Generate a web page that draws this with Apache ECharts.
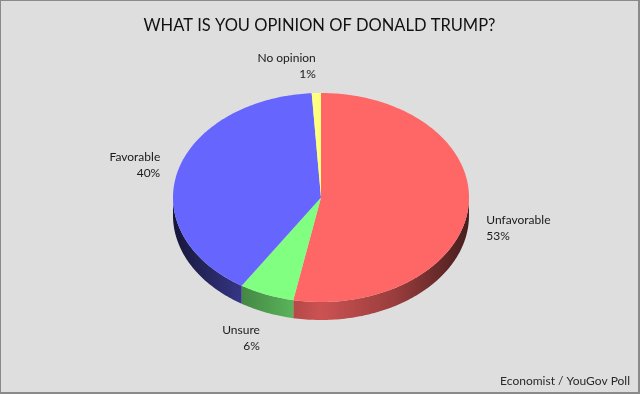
<!DOCTYPE html>
<html>
<head>
<meta charset="utf-8">
<script src="https://cdn.jsdelivr.net/npm/echarts@6/dist/echarts.min.js"></script>
<style>
html,body{margin:0;padding:0;background:#dedede;}
#chart{width:640px;height:394px;box-sizing:border-box;border-top:1px solid #8a8a8a;border-left:1px solid #8a8a8a;border-right:2px solid #8a8a8a;border-bottom:2px solid #8a8a8a;background:#dedede;}
</style>
</head>
<body>
<div id="chart"></div>
<script>
const categories = ['Unfavorable', 'Unsure', 'Favorable', 'No opinion'];
const values = [53, 6, 40, 1];
const colors = ['#ff6666', '#80ff80', '#6666ff', '#ffff80'];
const titleText = 'WHAT IS YOU OPINION OF DONALD TRUMP?';
const sourceText = 'Economist / YouGov Poll';

const chart = echarts.init(document.getElementById('chart'));
const total = values.reduce((a, b) => a + b, 0);
const starts = [];
let acc = 0;
values.forEach(v => { starts.push(acc / total * 360); acc += v; });

function geom() {
  return { cx: 320, cy: 196.5, rx: 148, ry: 104.5, depth: 18 };
}
function pt(g, deg, dy) {
  const r = deg * Math.PI / 180;
  return [g.cx + g.rx * Math.sin(r), g.cy - g.ry * Math.cos(r) + (dy || 0)];
}
function shade(hex, f) {
  const n = parseInt(hex.slice(1), 16);
  const r = (n >> 16) & 255, gg = (n >> 8) & 255, b = n & 255;
  return 'rgb(' + Math.round(r * f) + ',' + Math.round(gg * f) + ',' + Math.round(b * f) + ')';
}

const seriesData = categories.map((c, i) => ({ name: c, value: values[i] }));

function renderWall(params, api) {
  const i = params.dataIndex;
  const g = geom();
  const a0 = starts[i], a1 = starts[i] + api.value(0) / total * 360;
  const lo = Math.max(a0, 90), hi = Math.min(a1, 270);
  if (hi <= lo) return null;
  const top = [], bot = [];
  const steps = Math.max(4, Math.ceil(hi - lo));
  for (let k = 0; k <= steps; k++) {
    const d = lo + (hi - lo) * k / steps;
    top.push(pt(g, d, 0));
    bot.push(pt(g, d, g.depth));
  }
  const pts = top.concat(bot.reverse());
  const base = colors[i];
  return {
    type: 'polygon',
    shape: { points: pts },
    style: {
      fill: {
        type: 'linear', global: true,
        x: g.cx - g.rx, y: 0, x2: g.cx + g.rx, y2: 0,
        colorStops: [
          { offset: 0, color: shade(base, 0.22) },
          { offset: 0.25, color: shade(base, 0.55) },
          { offset: 0.5, color: shade(base, 0.8) },
          { offset: 0.75, color: shade(base, 0.6) },
          { offset: 1, color: shade(base, 0.28) }
        ]
      }
    }
  };
}

function renderTop(params, api) {
  const i = params.dataIndex;
  const g = geom();
  const v = api.value(0);
  const a0 = starts[i], a1 = starts[i] + v / total * 360;
  const pts = [[g.cx, g.cy]];
  const steps = Math.max(4, Math.ceil(a1 - a0));
  for (let k = 0; k <= steps; k++) pts.push(pt(g, a0 + (a1 - a0) * k / steps, 0));
  const mid = (a0 + a1) / 2 * Math.PI / 180;
  const s = Math.sin(mid), c = Math.cos(mid);
  const ax = g.cx + (g.rx + 18) * s;
  let ay = g.cy - (g.ry + 11) * c + (c < 0 ? g.depth : 0);
  const boxH = 32;
  ay = ay - c * boxH / 2;
  const align = s >= 0 ? 'left' : 'right';
  return {
    type: 'group',
    children: [
      { type: 'polygon', shape: { points: pts }, style: { fill: colors[i] } },
      {
        type: 'text',
        x: ax, y: ay,
        style: {
          text: categories[i] + '\n' + Math.round(v / total * 100) + '%',
          align: align, verticalAlign: 'middle',
          fontFamily: 'Lato', fontSize: 12, lineHeight: 16,
          fill: '#1a1a1a'
        }
      }
    ]
  };
}

chart.setOption({
  backgroundColor: '#dedede',
  animation: false,
  title: [
    { text: titleText, left: 'center', top: 11,
      textStyle: { fontFamily: 'Lato', fontSize: 16.5, fontWeight: 'normal', color: '#111111' } },
    { text: sourceText, right: 3, bottom: 0,
      textStyle: { fontFamily: 'Lato', fontSize: 12, fontWeight: 'normal', color: '#2a2a2a' } }
  ],
  series: [
    { type: 'custom', coordinateSystem: 'none', renderItem: renderWall, data: seriesData, silent: true, z: 1 },
    { type: 'custom', coordinateSystem: 'none', renderItem: renderTop, data: seriesData, silent: true, z: 2 }
  ]
});
</script>
</body>
</html>
